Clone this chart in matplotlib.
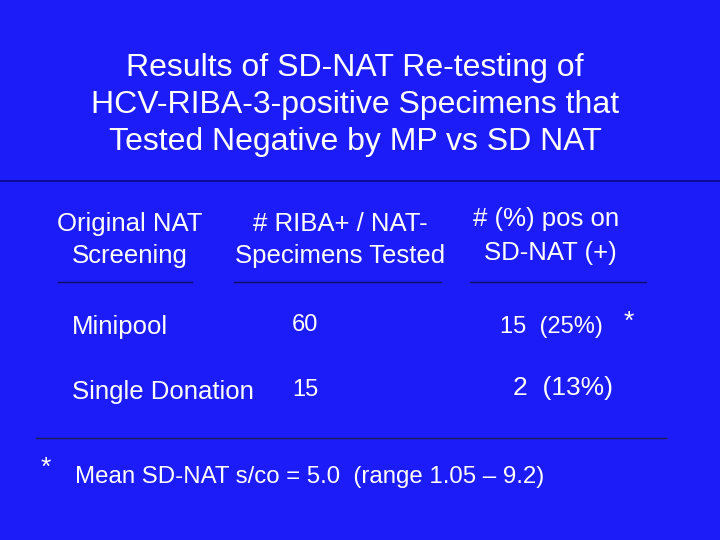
import matplotlib
matplotlib.use("Agg")
import matplotlib.pyplot as plt

title_lines = ["Results of SD-NAT Re-testing of", "HCV-RIBA-3-positive Specimens that", "Tested Negative by MP vs SD NAT"]
categories = ["Minipool", "Single Donation"]
tested = [60, 15]
positives = [15, 2]
percents = [25, 13]
footnote = "Mean SD-NAT s/co = 5.0  (range 1.05 – 9.2)"

W, H = 720, 540
fig = plt.figure(figsize=(7.2, 5.4), dpi=100)
fig.patch.set_facecolor("#1c1cf8")
ff = "Liberation Sans"

def T(x, y, s, size, ha="left", va="center"):
    fig.text(x / W, 1 - y / H, s, color="white", fontsize=size, ha=ha, va=va, family=ff)

def L(x0, x1, y, c="#101060", lw=1.0):
    fig.add_artist(plt.Line2D([x0 / W, x1 / W], [1 - y / H, 1 - y / H], color=c, lw=lw))

for i, s in enumerate(title_lines):
    T(355, 68 + 37 * i, s, 23, ha="center")
L(0, 720, 181, c="#0a0a80", lw=1.2)

T(130, 224, "Original NAT", 18.5, ha="center")
T(130, 256, "Screening", 18.5, ha="center")
T(340, 224, "# RIBA+ / NAT-", 18.5, ha="center")
T(340, 256, "Specimens Tested", 18.5, ha="center")
T(546, 219, "# (%) pos on", 18.5, ha="center")
T(550, 253, "SD-NAT (+)", 18.5, ha="center")
L(58, 192, 282); L(234, 441, 282); L(470, 646, 282)

ys = [327, 392]
xs_pos = [500, 513]
for i, c in enumerate(categories):
    T(72, ys[i], c, 18.5)
    T(292, ys[i] - 2, str(tested[i]), 17)
    if i == 0:
        T(xs_pos[i], ys[i], f"{positives[i]}  ({percents[i]}%)", 17)
    else:
        T(xs_pos[i], ys[i] - 4, f"{positives[i]}  ({percents[i]}%)", 19)
T(624, 322, "*", 19)

L(36, 666, 438, c="#202050")
T(41, 468, "*", 19)
T(75, 477, footnote, 17.3)

fig.savefig("out.png", dpi=100, facecolor=fig.get_facecolor())
